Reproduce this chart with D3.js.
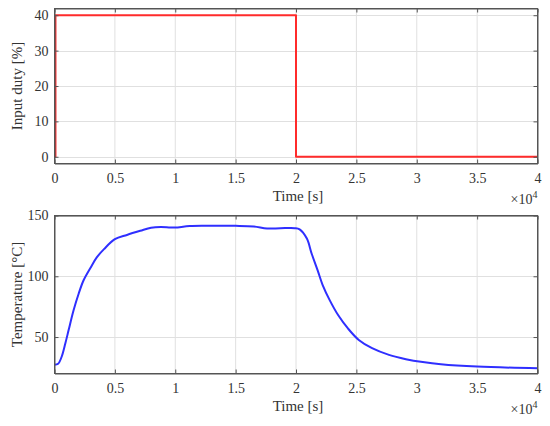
<!DOCTYPE html>
<html>
<head>
<meta charset="utf-8">
<script src="https://cdn.jsdelivr.net/npm/d3@7"></script>
<style>
  html, body { margin: 0; padding: 0; background: #fff; }
  svg { display: block; }
  text { font-family: "Liberation Serif", "Times New Roman", serif; fill: #333; }
</style>
</head>
<body>
<svg id="chart" width="550" height="426"></svg>
<script>
// ---- data ----
const dutyTime = [0, 80, 80, 20000, 20000, 40000];
const dutyValue = [0, 0, 40, 40, 0, 0];

const tempTime = [0, 300, 600, 900, 1170, 1580, 2000, 2400, 3000, 3500, 4100, 5000, 6000, 7100, 8000, 8800, 9600, 10000, 11200, 12600, 15000, 16500, 17600, 18700, 19900, 20300, 20900, 21300, 21800, 22200, 22800, 23500, 24300, 25200, 26300, 27700, 29100, 30500, 32000, 35000, 40000];
const tempValue = [27.2, 28, 34, 44.9, 55.7, 72, 85.6, 96.5, 107.3, 115.5, 122.3, 130.5, 134, 137.4, 140, 140.6, 140.1, 140.1, 141.3, 141.5, 141.5, 141, 139.3, 139.5, 139.6, 138.6, 131, 118.5, 104.6, 93, 80.2, 67.9, 57.1, 47.6, 40.8, 35.3, 31.8, 29.4, 27.6, 25.7, 24.3];

const xTicks = [0, 5000, 10000, 15000, 20000, 25000, 30000, 35000, 40000];
const xTickLabels = ["0", "0.5", "1", "1.5", "2", "2.5", "3", "3.5", "4"];
const dutyTicks = [0, 10, 20, 30, 40];
const tempTicks = [50, 100, 150];

const xLabel = "Time [s]";
const dutyLabel = "Input duty [%]";
const tempLabel = "Temperature [°C]";

// ---- layout ----
const svg = d3.select("#chart");
const left = 54.5, right = 537.5;
const FS = "15px", TFS = "14px";
const panels = [
  { top: 8.5, bottom: 163.5, domain: [-1.9, 41.9], ticks: dutyTicks, label: dutyLabel,
    xs: dutyTime, ys: dutyValue, color: "#ff2b2b", curve: d3.curveLinear },
  { top: 215.5, bottom: 373.5, domain: [20, 150], ticks: tempTicks, label: tempLabel,
    xs: tempTime, ys: tempValue, color: "#2f2fff", curve: d3.curveCatmullRom.alpha(0.5) }
];

const x = d3.scaleLinear().domain([0, 40000]).range([left, right]);

panels.forEach(p => {
  const y = d3.scaleLinear().domain(p.domain).range([p.bottom, p.top]);
  const g = svg.append("g");

  // grid
  g.selectAll(".vg").data(xTicks).join("line")
    .attr("x1", d => x(d)).attr("x2", d => x(d))
    .attr("y1", p.top).attr("y2", p.bottom)
    .attr("stroke", "#e0e0e0").attr("stroke-width", 1);
  g.selectAll(".hg").data(p.ticks).join("line")
    .attr("x1", left).attr("x2", right)
    .attr("y1", d => Math.round(y(d)) + 0.5).attr("y2", d => Math.round(y(d)) + 0.5)
    .attr("stroke", "#e0e0e0").attr("stroke-width", 1);

  // data line
  const line = d3.line().x(d => x(d[0])).y(d => y(d[1])).curve(p.curve);
  g.append("path")
    .datum(p.xs.map((t, i) => [t, p.ys[i]]))
    .attr("d", line)
    .attr("fill", "none")
    .attr("stroke", p.color)
    .attr("stroke-width", 2)
    .attr("stroke-linejoin", "round");

  // axes (ticks inside)
  const xb = d3.axisBottom(x).tickValues(xTicks).tickSizeInner(-4).tickSizeOuter(0)
    .tickFormat((d, i) => xTickLabels[i]).tickPadding(10);
  const xt = d3.axisTop(x).tickValues(xTicks).tickSizeInner(-4).tickSizeOuter(0).tickFormat("");
  const yl = d3.axisLeft(y).tickValues(p.ticks).tickSizeInner(-4).tickSizeOuter(0).tickPadding(6);
  const yr = d3.axisRight(y).tickValues(p.ticks).tickSizeInner(-4).tickSizeOuter(0).tickFormat("");

  const axes = [
    g.append("g").attr("transform", `translate(0,${p.bottom})`).call(xb),
    g.append("g").attr("transform", `translate(0,${p.top})`).call(xt),
    g.append("g").attr("transform", `translate(${left},0)`).call(yl),
    g.append("g").attr("transform", `translate(${right},0)`).call(yr)
  ];
  axes.forEach(a => {
    a.select(".domain").attr("stroke", "#555");
    a.selectAll(".tick line").attr("stroke", "#555");
    a.selectAll("text").style("font-family", "'Liberation Serif', serif")
      .style("font-size", TFS).attr("fill", "#333");
  });

  // frame
  g.append("rect")
    .attr("x", left).attr("y", p.top)
    .attr("width", right - left).attr("height", p.bottom - p.top)
    .attr("fill", "none").attr("stroke", "#555").attr("stroke-width", 1);

  // x label
  g.append("text")
    .attr("x", (left + right) / 2 + 2).attr("y", p.bottom + 37)
    .attr("text-anchor", "middle").style("font-size", FS)
    .text(xLabel);

  // exponent
  const ex = g.append("text")
    .attr("x", right).attr("y", p.bottom + 40)
    .attr("text-anchor", "end").style("font-size", TFS);
  ex.append("tspan").text("×10");
  ex.append("tspan").attr("dy", -6).style("font-size", "10px").text("4");

  // y label
  g.append("text")
    .attr("transform", `translate(22,${(p.top + p.bottom) / 2}) rotate(-90)`)
    .attr("text-anchor", "middle").style("font-size", FS)
    .text(p.label);
});
</script>
</body>
</html>
